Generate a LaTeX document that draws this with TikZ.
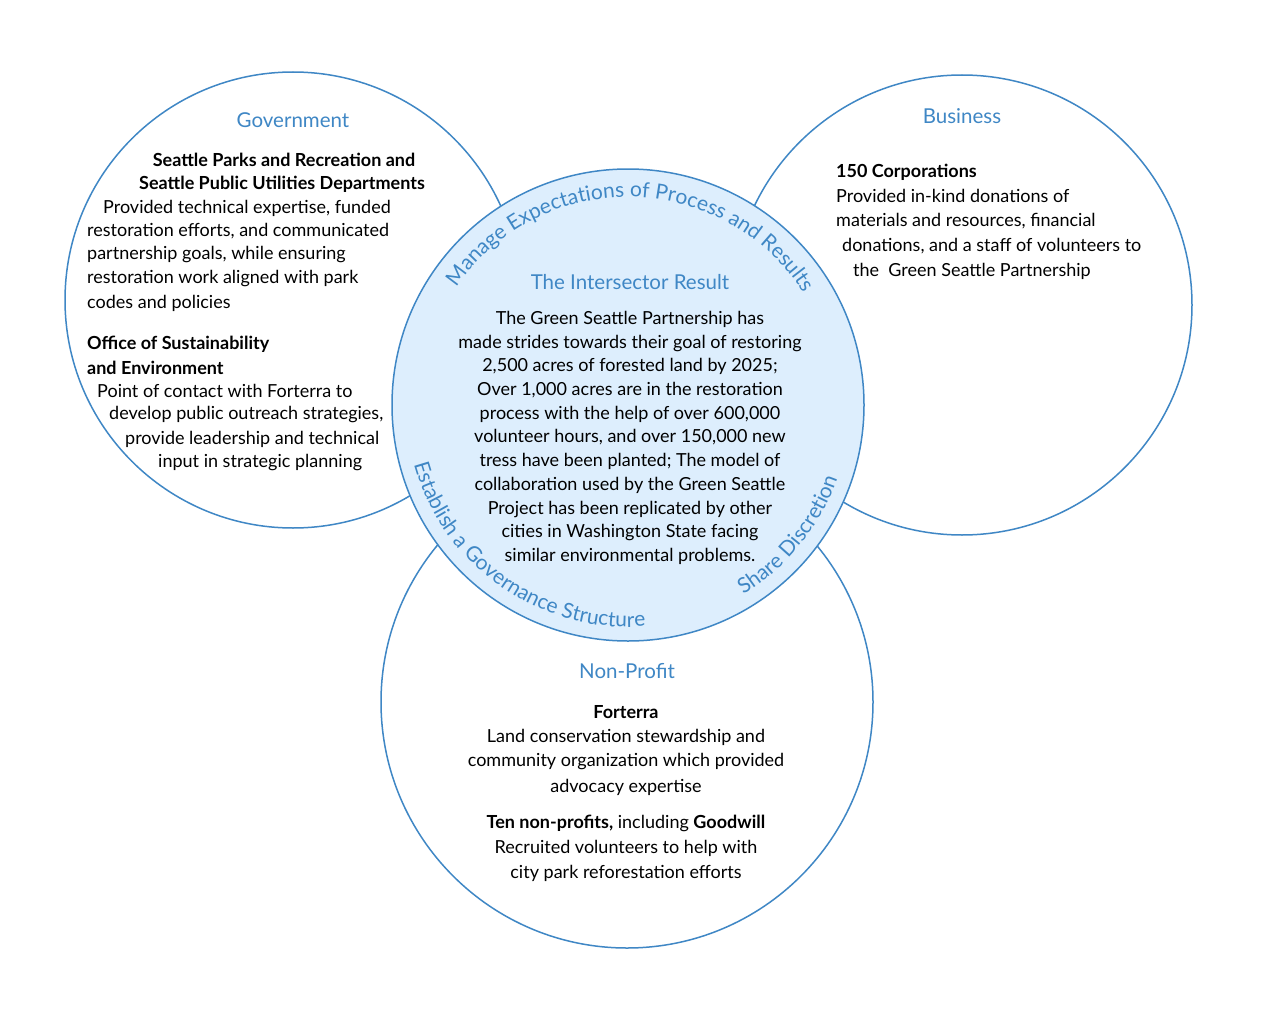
\documentclass[tikz,border=0pt]{standalone}
\usepackage{fontspec}
\setmainfont{Lato}
\usetikzlibrary{decorations.text}
\definecolor{mblue}{HTML}{3F87C5}
\definecolor{cfill}{HTML}{DDEEFD}
\newcommand{\curvefont}{\fontsize{21}{24}\selectfont\color{mblue}}
\begin{document}
\begin{tikzpicture}[x=1pt,y=-1pt,
  circ/.style={draw=mblue,line width=1.5pt},
  title/.style={text=mblue,font=\fontsize{20.5}{24}\selectfont,inner sep=0},
  ln/.style={anchor=west,font=\fontsize{18}{21}\selectfont,inner sep=0},
  lnc/.style={font=\fontsize{18}{21}\selectfont,inner sep=0},
  bf/.style={font=\fontsize{18}{21}\selectfont\bfseries},
  curved/.style={decorate,decoration={text along path,text align=center,text={|\curvefont|#1}}}]
\useasboundingbox (0,0) rectangle (1275,1025);
\fill[white] (0,0) rectangle (1275,1025);
\coordinate (G) at (293,300);
\coordinate (B) at (962,305);
\coordinate (N) at (627,702);
\coordinate (C) at (628,405);
\draw[circ] (G) circle[radius=228];
\draw[circ] (B) circle[radius=230];
\draw[circ] (N) circle[radius=246];
\draw[circ,fill=cfill] (C) circle[radius=236];
% curved texts
\path[curved={Manage Expectations of Process and Results}] (C) ++(-156:208) arc[start angle=-156,end angle=-22,radius=208];
\path[curved={Establish a Governance Structure}] (C) ++(-188:222) arc[start angle=-188,end angle=-282,radius=222];
\path[curved={Share Discretion}] (C) ++(-295:222) arc[start angle=-295,end angle=-347,radius=222];
% Government
\node[title] (gt) at (293,120) {Government};
\node[lnc,bf] (g1) at (284,160) {Seattle Parks and Recreation and};
\node[lnc,bf] (g2) at (282,184) {Seattle Public Utilities Departments};
\node[ln] (g3) at (103,208) {Provided technical expertise, funded};
\node[ln] (g4) at (87,231) {restoration efforts, and communicated};
\node[ln] (g5) at (87,255) {partnership goals, while ensuring};
\node[ln] (g6) at (87,279) {restoration work aligned with park};
\node[ln] (g7) at (87,303) {codes and policies};
\node[ln,bf] (g8) at (87,344) {Office of Sustainability};
\node[ln,bf] (g9) at (87,368) {and Environment};
\node[ln] (g10) at (97,391) {Point of contact with Forterra to};
\node[ln] (g11) at (109,415) {develop public outreach strategies,};
\node[ln] (g12) at (125,439) {provide leadership and technical};
\node[ln] (g13) at (158,463) {input in strategic planning};
% Business
\node[title] (bt) at (962,116) {Business};
\node[ln,bf] (b1) at (836,172) {150 Corporations};
\node[ln] (b2) at (836,196) {Provided in-kind donations of};
\node[ln] (b3) at (836,221) {materials and resources, financial};
\node[ln] (b4) at (842,246) {donations, and a staff of volunteers to};
\node[ln] (b5) at (853,271) {the\ \ Green Seattle Partnership};
% Center
\node[title] (ct) at (630,282) {The Intersector Result};
\node[align=center,font=\fontsize{18}{23.7}\selectfont,inner sep=0,anchor=north] (cp) at (630,311) {The Green Seattle Partnership has\\
made strides towards their goal of restoring\\
2,500 acres of forested land by 2025;\\
Over 1,000 acres are in the restoration\\
process with the help of over 600,000\\
volunteer hours, and over 150,000 new\\
tress have been planted; The model of\\
collaboration used by the Green Seattle\\
Project has been replicated by other\\
cities in Washington State facing\\
similar environmental problems.};
% Non-profit
\node[title] (nt) at (627,671) {Non-Profit};
\node[lnc,bf] (n1) at (626,712) {Forterra};
\node[lnc] (n2) at (626,737) {Land conservation stewardship and};
\node[lnc] (n3) at (626,762) {community organization which provided};
\node[lnc] (n4) at (626,787) {advocacy expertise};
\node[lnc] (n5) at (626,823) {\textbf{Ten non-profits,} including \textbf{Goodwill}};
\node[lnc] (n6) at (626,848) {Recruited volunteers to help with};
\node[lnc] (n7) at (626,873) {city park reforestation efforts};
\end{tikzpicture}
\end{document}
